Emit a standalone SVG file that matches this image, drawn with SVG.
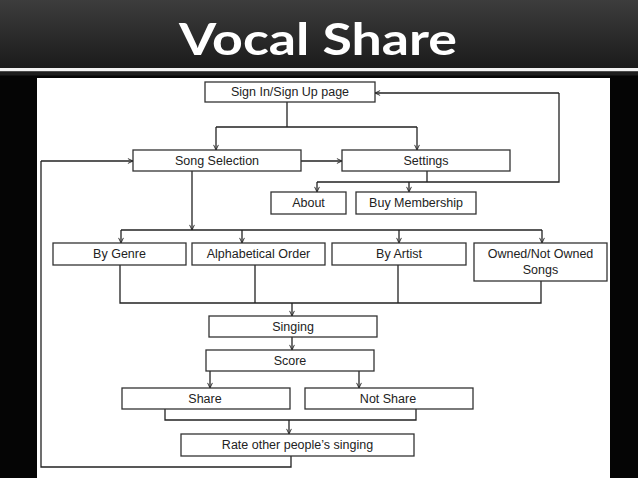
<svg xmlns="http://www.w3.org/2000/svg" width="638" height="478" viewBox="0 0 638 478">
<defs>
<linearGradient id="banner" x1="0" y1="0" x2="0" y2="1">
<stop offset="0" stop-color="#3d3d3d"/>
<stop offset="1" stop-color="#1b1b1b"/>
</linearGradient>
<marker id="arr" viewBox="0 0 10 10" refX="9.5" refY="5" markerWidth="6" markerHeight="6" markerUnits="userSpaceOnUse" orient="auto">
<path d="M1,1 L9.5,5 L1,9" fill="none" stroke="#222" stroke-width="1.5"/>
</marker>
</defs>
<style>
.box{fill:#fff;stroke:#333;stroke-width:1.3}
.lbl{font-family:"Liberation Sans",Arial,sans-serif;font-size:12.5px;fill:#222;text-anchor:middle;dominant-baseline:central}
.ln{fill:none;stroke:#222;stroke-width:1.3}
.la{fill:none;stroke:#222;stroke-width:1.3;marker-end:url(#arr)}
</style>
<rect x="0" y="0" width="638" height="478" fill="#050505"/>
<rect x="0" y="0" width="638" height="68" fill="url(#banner)"/>
<rect x="0" y="68" width="638" height="3.5" fill="#f2f2f2"/>
<rect x="0" y="71.5" width="638" height="4" fill="#1e1e1e"/>
<text x="318" y="55" font-family="Lato,'DejaVu Sans',sans-serif" font-weight="bold" font-size="43" fill="#ffffff" text-anchor="middle" textLength="278" lengthAdjust="spacingAndGlyphs">Vocal Share</text>
<rect x="37" y="78" width="573" height="400" fill="#ffffff"/>

<g id="connectors">
<path class="ln" d="M287,102 V127 M216,127 H417"/>
<path class="la" d="M216,127 V150"/>
<path class="la" d="M417,127 V150"/>
<path class="la" d="M301,161 H342"/>
<path class="ln" d="M427,171 V182 M317,182 H559 V93"/>
<path class="la" d="M559,93 H375"/>
<path class="la" d="M317,182 V192"/>
<path class="la" d="M409,182 V192"/>
<path class="la" d="M192,171 V230"/>
<path class="ln" d="M121,230 H542"/>
<path class="la" d="M121,230 V243"/>
<path class="la" d="M242,230 V243"/>
<path class="la" d="M399,230 V243"/>
<path class="la" d="M542,230 V243"/>
<path class="ln" d="M120,265 V303 H541 V281 M255,265 V303 M398,265 V303"/>
<path class="la" d="M292,303 V316"/>
<path class="la" d="M292,337 V350"/>
<path class="la" d="M210,371 V388"/>
<path class="la" d="M359,371 V388"/>
<path class="ln" d="M165,409 V420 H416 V409"/>
<path class="la" d="M289,420 V434"/>
<path class="ln" d="M291,456 V467 H41 V161"/>
<path class="la" d="M41,161 H133"/>
</g>

<g id="signin"><rect class="box" x="205" y="82" width="170" height="20"/><text class="lbl" x="290" y="92">Sign In/Sign Up page</text></g>
<g id="songsel"><rect class="box" x="133" y="150" width="168" height="21"/><text class="lbl" x="217" y="160.5">Song Selection</text></g>
<g id="settings"><rect class="box" x="342" y="150" width="168" height="21"/><text class="lbl" x="426" y="160.5">Settings</text></g>
<g id="about"><rect class="box" x="271" y="192" width="75" height="22"/><text class="lbl" x="308.5" y="203">About</text></g>
<g id="buymem"><rect class="box" x="356" y="192" width="120" height="22"/><text class="lbl" x="416" y="203">Buy Membership</text></g>
<g id="bygenre"><rect class="box" x="53" y="243" width="133" height="22"/><text class="lbl" x="119.5" y="254">By Genre</text></g>
<g id="alpha"><rect class="box" x="192" y="243" width="133" height="22"/><text class="lbl" x="258.5" y="254">Alphabetical Order</text></g>
<g id="byartist"><rect class="box" x="332" y="243" width="134" height="22"/><text class="lbl" x="399" y="254">By Artist</text></g>
<g id="owned"><rect class="box" x="474" y="243" width="133" height="38"/><text class="lbl" x="540.5" y="254">Owned/Not Owned</text><text class="lbl" x="540.5" y="270">Songs</text></g>
<g id="singing"><rect class="box" x="209" y="316" width="168" height="21"/><text class="lbl" x="293" y="326.5">Singing</text></g>
<g id="score"><rect class="box" x="206" y="350" width="168" height="21"/><text class="lbl" x="290" y="360.5">Score</text></g>
<g id="share"><rect class="box" x="122" y="388" width="168" height="21"/><text class="lbl" x="205" y="398.5">Share</text></g>
<g id="notshare"><rect class="box" x="305" y="388" width="168" height="21"/><text class="lbl" x="388" y="398.5">Not Share</text></g>
<g id="rate"><rect class="box" x="181" y="434" width="233" height="22"/><text class="lbl" x="297.5" y="445">Rate other people’s singing</text></g>
</svg>
